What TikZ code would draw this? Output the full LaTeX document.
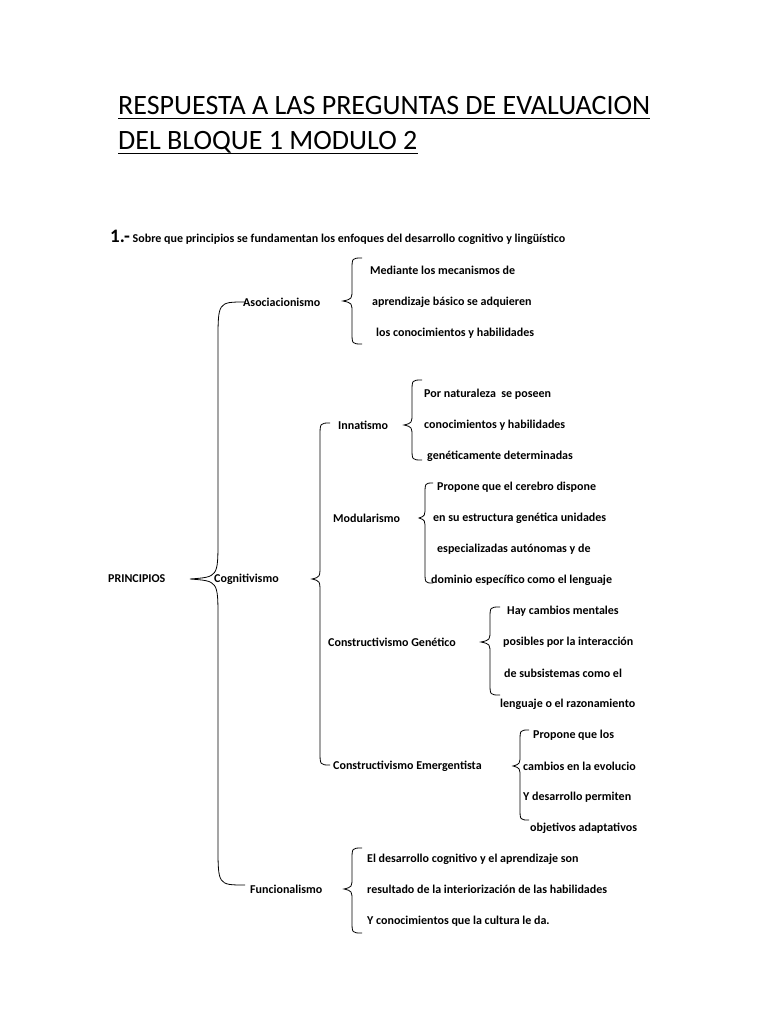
\documentclass[tikz,border=0pt]{standalone}
\usepackage{fontspec}
\setmainfont{Carlito}
\begin{document}
\begin{tikzpicture}[x=1pt,y=-1pt,
  t/.style={anchor=west,inner sep=0pt,font=\fontsize{12}{14}\selectfont\bfseries},
  br/.style={draw,line width=0.8pt}]
\useasboundingbox[fill=white] (0,0) rectangle (768,1024);
\newcommand{\brc}[7]{% x xtip xend ytop ymid ybot r
  \draw[line width=0.8pt] (#3,#4) .. controls (#1,#4) .. (#1,#4+#7) -- (#1,#5-#7)
    .. controls (#1,#5-2) .. (#2,#5) .. controls (#1,#5+2) .. (#1,#5+#7) -- (#1,#6-#7)
    .. controls (#1,#6) .. (#3,#6);}
% title
\node[anchor=base west,inner sep=0pt,font=\fontsize{28}{32}\selectfont] (t1) at (118,115) {RESPUESTA A LAS PREGUNTAS DE EVALUACION};
\node[anchor=base west,inner sep=0pt,font=\fontsize{28}{32}\selectfont] (t2) at (118,150) {DEL BLOQUE 1 MODULO 2};
\draw[line width=1pt] ([yshift=-4pt]t1.base west) -- ([yshift=-4pt]t1.base east);
\draw[line width=1pt] ([yshift=-4pt]t2.base west) -- ([yshift=-4pt]t2.base east);
\node[anchor=base west,inner sep=0pt,font=\fontsize{12}{14}\selectfont\bfseries] (q) at (110,242) {{\fontsize{19}{20}\selectfont 1.-} Sobre que principios se fundamentan los enfoques del desarrollo cognitivo y lingüístico};
% main
\node[t] (p) at (108,579) {PRINCIPIOS};
\node[t] (cog) at (214,579) {Cognitivismo};
\node[t] (aso) at (243,302) {Asociacionismo};
\node[t] (fun) at (250,889) {Funcionalismo};
\brc{218}{190}{245}{302}{579}{885}{40}
% asociacionismo
\brc{352}{343}{362}{258}{301}{344}{12}
\node[t] (a1) at (370,270) {Mediante los mecanismos de};
\node[t] (a2) at (372,302) {aprendizaje básico se adquieren};
\node[t] (a3) at (376,333) {los conocimientos y habilidades};
% cognitivismo
\brc{320}{312}{330}{423}{579}{765}{14}
\node[t] (inn) at (338,425) {Innatismo};
\brc{412}{404}{422}{380}{425}{460}{12}
\node[t] at (424,394) {Por naturaleza\ \ se poseen};
\node[t] at (424,425) {conocimientos y habilidades};
\node[t] at (427,456) {genéticamente determinadas};
\node[t] (mod) at (333,518) {Modularismo};
\brc{425}{419}{433}{483}{518}{583}{12}
\node[t] at (437,487) {Propone que el cerebro dispone};
\node[t] at (433,518) {en su estructura genética unidades};
\node[t] at (437,549) {especializadas autónomas y de};
\node[t] at (431,580) {dominio específico como el lenguaje};
\node[t] (cg) at (328,642) {Constructivismo Genético};
\brc{490}{481}{500}{607}{642}{695}{12}
\node[t] at (507,611) {Hay cambios mentales};
\node[t] at (503,642) {posibles por la interacción};
\node[t] at (504,673) {de subsistemas como el};
\node[t] at (500,704) {lenguaje o el razonamiento};
\node[t] (ce) at (333,766) {Constructivismo Emergentista};
\brc{520}{513}{529}{730}{766}{820}{12}
\node[t] at (533,735) {Propone que los};
\node[t] at (523,766) {cambios en la evolucio};
\node[t] at (523,797) {Y desarrollo permiten};
\node[t] at (530,828) {objetivos adaptativos};
% funcionalismo
\brc{352}{344}{362}{848}{889}{933}{12}
\node[t] at (367,859) {El desarrollo cognitivo y el aprendizaje son};
\node[t] at (367,889) {resultado de la interiorización de las habilidades};
\node[t] at (367,921) {Y conocimientos que la cultura le da.};
\end{tikzpicture}
\end{document}
